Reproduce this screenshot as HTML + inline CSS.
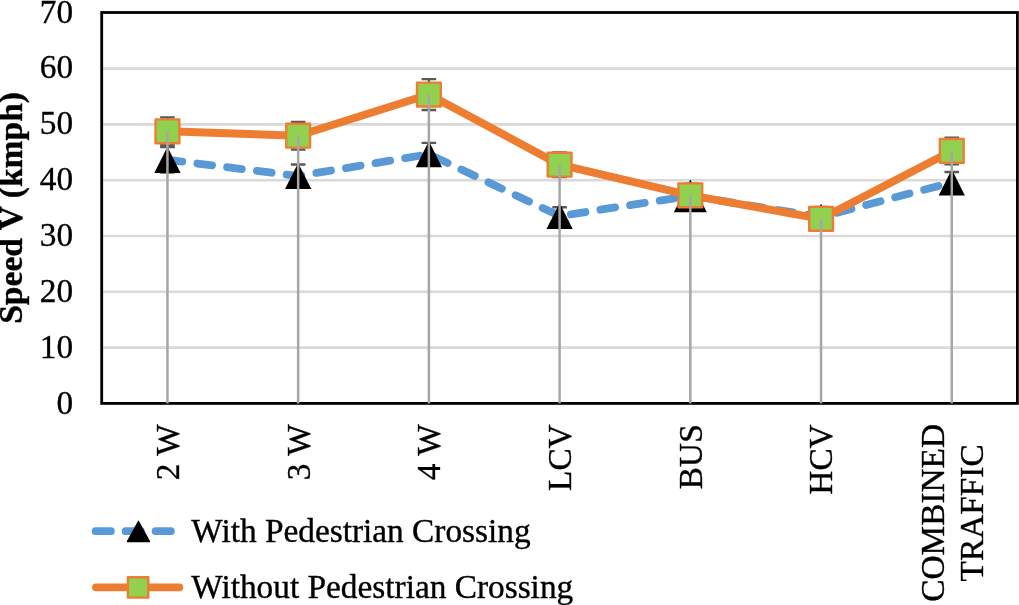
<!DOCTYPE html>
<html lang="en"><head><meta charset="utf-8"><title>Speed chart</title>
<style>html,body{margin:0;padding:0;background:#fff;}body{width:1019px;height:605px;overflow:hidden;}svg{display:block;}text{font-family:"Liberation Serif","Times New Roman",serif;fill:#000;stroke:#000;stroke-width:0.35px;}</style></head><body>
<svg width="1019" height="605" viewBox="0 0 1019 605">
<rect x="0" y="0" width="1019" height="605" fill="#fff"/>
<line x1="101.7" y1="347.60" x2="1017.4" y2="347.60" stroke="#d9d9d9" stroke-width="2.6"/>
<line x1="101.7" y1="291.80" x2="1017.4" y2="291.80" stroke="#d9d9d9" stroke-width="2.6"/>
<line x1="101.7" y1="236.00" x2="1017.4" y2="236.00" stroke="#d9d9d9" stroke-width="2.6"/>
<line x1="101.7" y1="180.20" x2="1017.4" y2="180.20" stroke="#d9d9d9" stroke-width="2.6"/>
<line x1="101.7" y1="124.40" x2="1017.4" y2="124.40" stroke="#d9d9d9" stroke-width="2.6"/>
<line x1="101.7" y1="68.60" x2="1017.4" y2="68.60" stroke="#d9d9d9" stroke-width="2.6"/>
<polyline points="167.45,159.80 298.17,176.00 428.89,154.20 559.61,216.00 690.33,195.85 821.05,216.90 951.77,182.40" fill="none" stroke="#5899d6" stroke-width="7.8" stroke-linecap="round" stroke-linejoin="round" stroke-dasharray="14.8 15.2" stroke-dashoffset="-0.15"/>
<polyline points="167.45,131.30 298.17,135.70 428.89,94.55 559.61,164.70 690.33,195.30 821.05,218.80 951.77,150.90" fill="none" stroke="#ed7d31" stroke-width="7.9" stroke-linecap="round" stroke-linejoin="round"/>
<path d="M167.45 147.00V172.60M160.15 147.00H174.75M160.15 172.60H174.75" stroke="#595959" stroke-width="2.4" fill="none"/>
<path d="M298.17 164.50V187.50M290.87 164.50H305.47M290.87 187.50H305.47" stroke="#595959" stroke-width="2.4" fill="none"/>
<path d="M428.89 142.90V165.50M421.59 142.90H436.19M421.59 165.50H436.19" stroke="#595959" stroke-width="2.4" fill="none"/>
<path d="M559.61 207.30V224.70M552.31 207.30H566.91M552.31 224.70H566.91" stroke="#595959" stroke-width="2.4" fill="none"/>
<path d="M690.33 185.85V205.85M683.03 185.85H697.63M683.03 205.85H697.63" stroke="#595959" stroke-width="2.4" fill="none"/>
<path d="M821.05 206.90V226.90M813.75 206.90H828.35M813.75 226.90H828.35" stroke="#595959" stroke-width="2.4" fill="none"/>
<path d="M951.77 172.00V192.80M944.47 172.00H959.07M944.47 192.80H959.07" stroke="#595959" stroke-width="2.4" fill="none"/>
<path d="M167.45 146.70L180.55 172.90H154.35Z" fill="#000"/>
<path d="M298.17 162.90L311.27 189.10H285.07Z" fill="#000"/>
<path d="M428.89 141.10L441.99 167.30H415.79Z" fill="#000"/>
<path d="M559.61 202.90L572.71 229.10H546.51Z" fill="#000"/>
<path d="M690.33 179.50L706.83 212.20H673.83Z" fill="#000"/>
<path d="M821.05 203.80L834.15 230.00H807.95Z" fill="#000"/>
<path d="M951.77 169.30L964.87 195.50H938.67Z" fill="#000"/>
<path d="M167.45 117.40V145.20M160.15 117.40H174.75M160.15 145.20H174.75" stroke="#595959" stroke-width="2.4" fill="none"/>
<path d="M298.17 121.85V149.55M290.87 121.85H305.47M290.87 149.55H305.47" stroke="#595959" stroke-width="2.4" fill="none"/>
<path d="M428.89 79.10V110.00M421.59 79.10H436.19M421.59 110.00H436.19" stroke="#595959" stroke-width="2.4" fill="none"/>
<path d="M559.61 152.40V177.00M552.31 152.40H566.91M552.31 177.00H566.91" stroke="#595959" stroke-width="2.4" fill="none"/>
<path d="M690.33 183.80V206.80M683.03 183.80H697.63M683.03 206.80H697.63" stroke="#595959" stroke-width="2.4" fill="none"/>
<path d="M821.05 207.30V230.30M813.75 207.30H828.35M813.75 230.30H828.35" stroke="#595959" stroke-width="2.4" fill="none"/>
<path d="M951.77 137.60V164.20M944.47 137.60H959.07M944.47 164.20H959.07" stroke="#595959" stroke-width="2.4" fill="none"/>
<rect x="155.55" y="119.40" width="23.8" height="23.8" fill="#92d050" stroke="#ed7d31" stroke-width="2.4" stroke-linejoin="round"/>
<rect x="286.27" y="123.80" width="23.8" height="23.8" fill="#92d050" stroke="#ed7d31" stroke-width="2.4" stroke-linejoin="round"/>
<rect x="416.99" y="82.65" width="23.8" height="23.8" fill="#92d050" stroke="#ed7d31" stroke-width="2.4" stroke-linejoin="round"/>
<rect x="547.71" y="152.80" width="23.8" height="23.8" fill="#92d050" stroke="#ed7d31" stroke-width="2.4" stroke-linejoin="round"/>
<rect x="678.43" y="183.40" width="23.8" height="23.8" fill="#92d050" stroke="#ed7d31" stroke-width="2.4" stroke-linejoin="round"/>
<rect x="809.15" y="206.90" width="23.8" height="23.8" fill="#92d050" stroke="#ed7d31" stroke-width="2.4" stroke-linejoin="round"/>
<rect x="939.87" y="139.00" width="23.8" height="23.8" fill="#92d050" stroke="#ed7d31" stroke-width="2.4" stroke-linejoin="round"/>
<rect x="101.7" y="12.5" width="915.6999999999999" height="390.9" fill="none" stroke="#000" stroke-width="2.8"/>
<line x1="167.45" y1="131.30" x2="167.45" y2="403.4" stroke="#a6a6a6" stroke-width="2.5"/>
<line x1="298.17" y1="135.70" x2="298.17" y2="403.4" stroke="#a6a6a6" stroke-width="2.5"/>
<line x1="428.89" y1="94.55" x2="428.89" y2="403.4" stroke="#a6a6a6" stroke-width="2.5"/>
<line x1="559.61" y1="164.70" x2="559.61" y2="403.4" stroke="#a6a6a6" stroke-width="2.5"/>
<line x1="690.33" y1="195.30" x2="690.33" y2="403.4" stroke="#a6a6a6" stroke-width="2.5"/>
<line x1="821.05" y1="218.80" x2="821.05" y2="403.4" stroke="#a6a6a6" stroke-width="2.5"/>
<line x1="951.77" y1="150.90" x2="951.77" y2="403.4" stroke="#a6a6a6" stroke-width="2.5"/>
<text x="73.2" y="414.00" font-size="33.33" text-anchor="end">0</text>
<text x="73.2" y="358.07" font-size="33.33" text-anchor="end">10</text>
<text x="73.2" y="302.14" font-size="33.33" text-anchor="end">20</text>
<text x="73.2" y="246.21" font-size="33.33" text-anchor="end">30</text>
<text x="73.2" y="190.29" font-size="33.33" text-anchor="end">40</text>
<text x="73.2" y="134.36" font-size="33.33" text-anchor="end">50</text>
<text x="73.2" y="78.43" font-size="33.33" text-anchor="end">60</text>
<text x="73.2" y="22.50" font-size="33.33" text-anchor="end">70</text>
<text transform="translate(22.3 207.9) rotate(-90)" font-size="33.55" font-weight="bold" text-anchor="middle">Speed V (kmph)</text>
<text transform="translate(178.85 424.3) rotate(-90)" font-size="33.33" text-anchor="end">2 W</text>
<text transform="translate(309.57 424.3) rotate(-90)" font-size="33.33" text-anchor="end">3 W</text>
<text transform="translate(440.29 424.3) rotate(-90)" font-size="33.33" text-anchor="end">4 W</text>
<text transform="translate(571.01 424.3) rotate(-90)" font-size="33.33" text-anchor="end">LCV</text>
<text transform="translate(701.73 424.3) rotate(-90)" font-size="33.33" text-anchor="end">BUS</text>
<text transform="translate(832.45 424.3) rotate(-90)" font-size="33.33" text-anchor="end">HCV</text>
<text transform="translate(944.47 512.9) rotate(-90)" font-size="33.33" text-anchor="middle">COMBINED</text>
<text transform="translate(982.87 512.9) rotate(-90)" font-size="33.33" text-anchor="middle">TRAFFIC</text>
<line x1="95.6" y1="531.2" x2="175" y2="531.2" stroke="#5899d6" stroke-width="7.7" stroke-linecap="round" stroke-dasharray="15.3 14.7"/>
<path d="M138.45 521.2L149.6 541.6H127.3Z" fill="#000" stroke="#000" stroke-width="1.1" stroke-linejoin="round"/>
<text x="191.3" y="542.1" font-size="33.33">With Pedestrian Crossing</text>
<line x1="95.9" y1="587.3" x2="179.4" y2="587.3" stroke="#ed7d31" stroke-width="7.8" stroke-linecap="round"/>
<rect x="127.9" y="577.2" width="20.4" height="20.4" fill="#92d050" stroke="#ed7d31" stroke-width="2.4" stroke-linejoin="round"/>
<text x="191.3" y="598.2" font-size="33.33">Without Pedestrian Crossing</text>
</svg></body></html>
